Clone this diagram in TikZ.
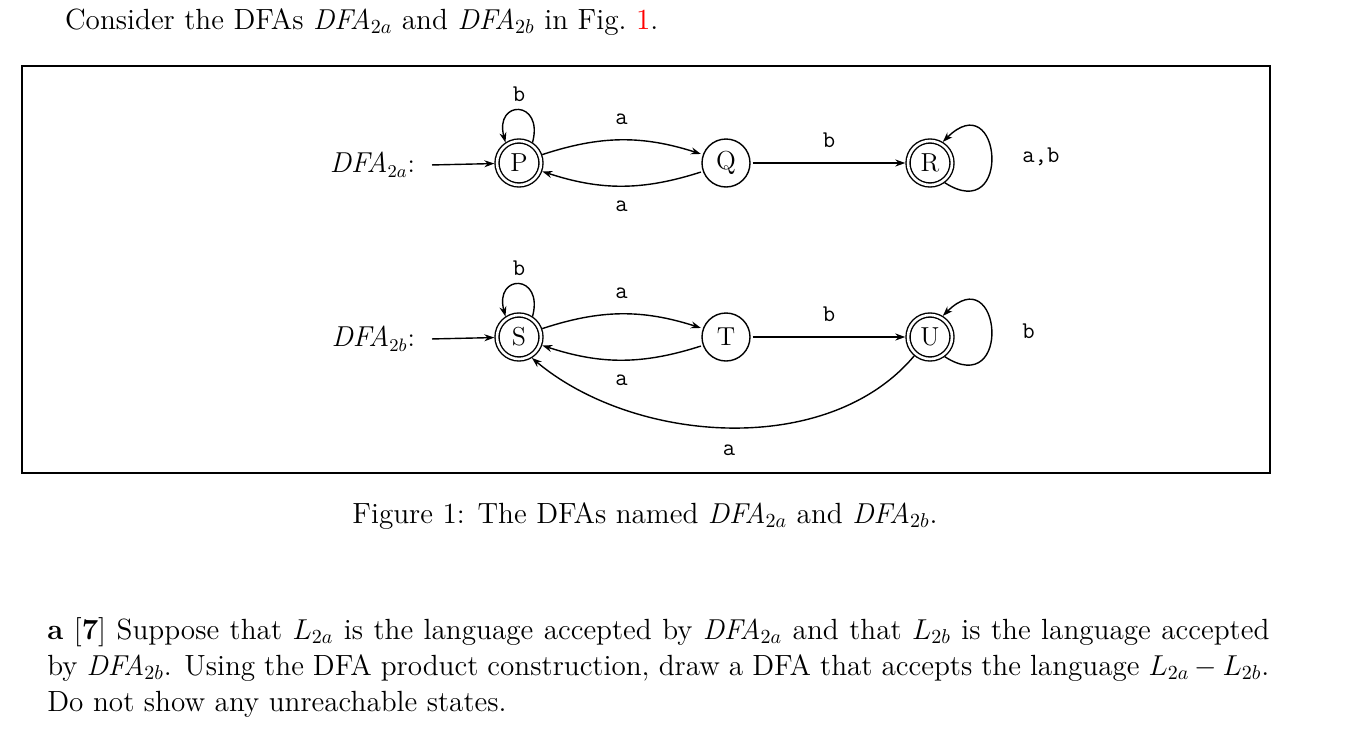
\documentclass[tikz,border=0pt]{standalone}
\usetikzlibrary{arrows.meta}
\begin{document}
\begin{tikzpicture}[x=0.5pt,y=-0.5pt,
  st/.style={circle,draw,line width=0.7pt,minimum size=24pt,inner sep=0pt,font=\fontsize{13}{13}\selectfont},
  acc/.style={st,double,double distance=1.3pt,minimum size=22pt},
  lab/.style={font=\ttfamily\fontsize{12}{12}\selectfont},
  tr/.style={-{Stealth[length=5pt,width=3.5pt]},line width=0.7pt,shorten >=1pt,shorten <=1pt},
  txt/.style={font=\fontsize{14.6}{17}\selectfont,anchor=west}]
\useasboundingbox (0,0) rectangle (1348,734);
\node[txt] (l1) at (58,22) {Consider the DFAs $\mathit{DFA}_{2a}$ and $\mathit{DFA}_{2b}$ in Fig.~\textcolor{red}{1}.};
\draw[line width=0.8pt] (22,66) rectangle (1270,473);
% DFA 2a
\node[anchor=east,font=\fontsize{13.5}{13}\selectfont] (na) at (422,165) {$\mathit{DFA}_{2a}$:};
\node[acc] (P) at (519,163) {P};
\node[st] (Q) at (726,163) {Q};
\node[acc] (R) at (930,163) {R};
\draw[tr] (na.east) ++(8,0) coordinate (sa) -- (P);
\draw[tr] (P.55) .. controls +(12,-45) and +(-12,-45) .. node[lab,above,yshift=1pt]{b} (P.125);
\draw[tr] (P.20) to[bend left=18] node[lab,above,yshift=4pt]{a} (Q.160);
\draw[tr] (Q.200) to[bend left=18] node[lab,below,yshift=-4pt]{a} (P.-20);
\draw[tr] (Q) -- node[lab,above,yshift=4pt]{b} (R);
\draw[tr] (R.-55) .. controls +(70,45) and +(60,-60) .. node[lab,right,xshift=12pt]{a,b} (R.60);
% DFA 2b
\node[anchor=east,font=\fontsize{13.5}{13}\selectfont] (nb) at (422,339) {$\mathit{DFA}_{2b}$:};
\node[acc] (S) at (519,337) {S};
\node[st] (T) at (726,337) {T};
\node[acc] (U) at (930,337) {U};
\draw[tr] (nb.east) ++(8,0) coordinate (sb) -- (S);
\draw[tr] (S.55) .. controls +(12,-45) and +(-12,-45) .. node[lab,above,yshift=1pt]{b} (S.125);
\draw[tr] (S.20) to[bend left=18] node[lab,above,yshift=4pt]{a} (T.160);
\draw[tr] (T.200) to[bend left=18] node[lab,below,yshift=-4pt]{a} (S.-20);
\draw[tr] (T) -- node[lab,above,yshift=4pt]{b} (U);
\draw[tr] (U.-55) .. controls +(70,45) and +(60,-60) .. node[lab,right,xshift=12pt]{b} (U.60);
\draw[tr] (U.-130) to[out=-130,in=-40,looseness=0.9] node[lab,below,yshift=-5pt]{a} (S.-60);
\node[font=\fontsize{14.6}{17}\selectfont] (cap) at (645,516) {Figure 1: The DFAs named $\mathit{DFA}_{2a}$ and $\mathit{DFA}_{2b}$.};
\node[anchor=north west,inner sep=0pt,font=\fontsize{14.6}{18}\selectfont,text width=611pt,align=justify] (q) at (47,617)
{\textbf{a} [\textbf{7}] Suppose that $L_{2a}$ is the language accepted by $\mathit{DFA}_{2a}$ and that $L_{2b}$ is the language accepted by $\mathit{DFA}_{2b}$. Using the DFA product construction, draw a DFA that accepts the language $L_{2a}-L_{2b}$. Do not show any unreachable states.};
\end{tikzpicture}
\end{document}
